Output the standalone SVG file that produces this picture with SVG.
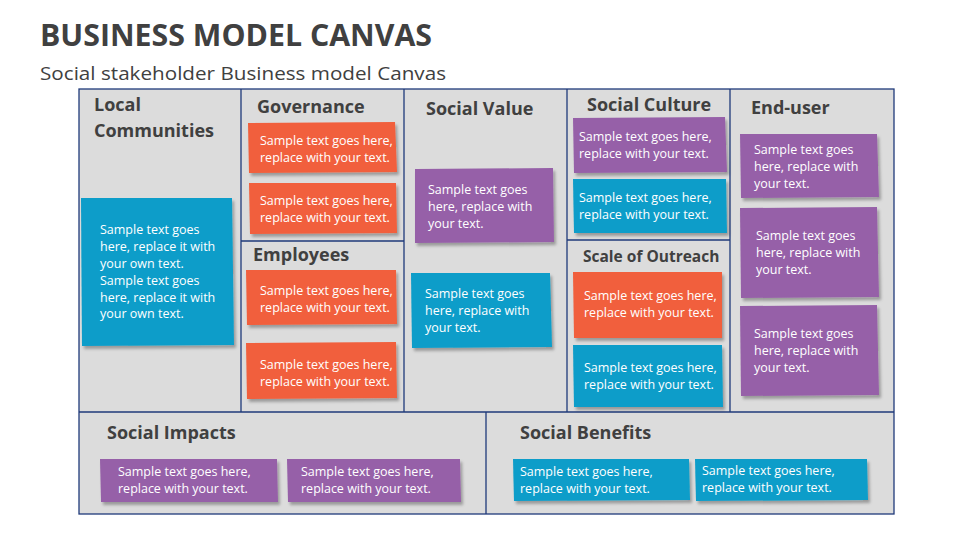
<svg xmlns="http://www.w3.org/2000/svg" width="960" height="540" viewBox="0 0 960 540">
<defs>
<filter id="sh" x="-10%" y="-10%" width="130%" height="140%"><feDropShadow dx="2" dy="3" stdDeviation="1.5" flood-color="#000" flood-opacity="0.3"/></filter>
</defs>
<style>
.t{font-family:"Open Sans","Liberation Sans",Arial,sans-serif;fill:#404040}
.h{font-family:"Open Sans","Liberation Sans",sans-serif;font-weight:bold;font-size:18px;fill:#404040}
.n{font-family:"Open Sans","Liberation Sans",sans-serif;font-size:12.5px;fill:#fff}
.o{fill:#F15F3C;filter:url(#sh)}.b{fill:#0A9DC9;filter:url(#sh)}.p{fill:#9660A8;filter:url(#sh)}
.ln{stroke:#1F3A7A;stroke-width:1.3;fill:none}
</style>
<rect width="960" height="540" fill="#fff"/>
<text class="t" x="40" y="46" font-size="30" font-weight="bold" textLength="392" lengthAdjust="spacingAndGlyphs">BUSINESS MODEL CANVAS</text>
<text class="t" x="40" y="80" font-size="19" textLength="406" lengthAdjust="spacingAndGlyphs">Social stakeholder Business model Canvas</text>
<g id="connectors">
<rect x="79" y="89" width="815" height="425" style="fill:#DCDCDC" class="ln"/>
<path class="ln" d="M241 89V412M404 89V412M567 89V412M730 89V412M79 412H894M486 412V514M241 241H404M567 240H730"/>
</g>
<g id="local"><text class="h" x="94" y="111">Local</text><text class="h" x="94" y="137">Communities</text>
<polygon class="b" points="81,198 232,198 234,345 82,346"/>
<text class="n" x="100" y="234">Sample text goes</text><text class="n" x="100" y="251">here, replace it with</text><text class="n" x="100" y="268">your own text.</text><text class="n" x="100" y="285">Sample text goes</text><text class="n" x="100" y="302">here, replace it with</text><text class="n" x="100" y="318">your own text.</text></g>
<g id="governance"><text class="h" x="257" y="113">Governance</text>
<polygon class="o" points="248,123 395,122 397,172 249,173"/>
<text class="n" x="260" y="145">Sample text goes here,</text><text class="n" x="260" y="162">replace with your text.</text>
<polygon class="o" points="249,183 396,183 397,233 250,234"/>
<text class="n" x="260" y="205">Sample text goes here,</text><text class="n" x="260" y="222">replace with your text.</text></g>
<g id="employees"><text class="h" x="253" y="261">Employees</text>
<polygon class="o" points="246,270 396,270 397,324 247,325"/>
<text class="n" x="260" y="295">Sample text goes here,</text><text class="n" x="260" y="312">replace with your text.</text>
<polygon class="o" points="246,343 396,342 397,398 247,399"/>
<text class="n" x="260" y="369">Sample text goes here,</text><text class="n" x="260" y="386">replace with your text.</text></g>
<g id="socialvalue"><text class="h" x="426" y="115">Social Value</text>
<polygon class="p" points="415,169 553,168 554,242 415,243"/>
<text class="n" x="428" y="194">Sample text goes</text><text class="n" x="428" y="211">here, replace with</text><text class="n" x="428" y="228">your text.</text>
<polygon class="b" points="411,273 550,273 552,347 412,348"/>
<text class="n" x="425" y="298">Sample text goes</text><text class="n" x="425" y="315">here, replace with</text><text class="n" x="425" y="332">your text.</text></g>
<g id="socialculture"><text class="h" x="587" y="111">Social Culture</text>
<polygon class="p" points="573,118 725,117 727,172 574,173"/>
<text class="n" x="579" y="141">Sample text goes here,</text><text class="n" x="579" y="158">replace with your text.</text>
<polygon class="b" points="573,179 726,179 727,233 574,233"/>
<text class="n" x="579" y="202">Sample text goes here,</text><text class="n" x="579" y="219">replace with your text.</text></g>
<g id="scale"><text class="h" x="583" y="262" style="font-size:15.5px">Scale of Outreach</text>
<polygon class="o" points="573,272 722,272 722,338 574,338"/>
<text class="n" x="584" y="300">Sample text goes here,</text><text class="n" x="584" y="317">replace with your text.</text>
<polygon class="b" points="573,345 722,345 723,407 574,407"/>
<text class="n" x="584" y="372">Sample text goes here,</text><text class="n" x="584" y="389">replace with your text.</text></g>
<g id="enduser"><text class="h" x="751" y="114">End-user</text>
<polygon class="p" points="740,134 877,134 879,197 741,198"/>
<text class="n" x="754" y="154">Sample text goes</text><text class="n" x="754" y="171">here, replace with</text><text class="n" x="754" y="188">your text.</text>
<polygon class="p" points="740,208 877,207 879,297 741,298"/>
<text class="n" x="756" y="240">Sample text goes</text><text class="n" x="756" y="257">here, replace with</text><text class="n" x="756" y="274">your text.</text>
<polygon class="p" points="740,306 877,305 879,395 741,396"/>
<text class="n" x="754" y="338">Sample text goes</text><text class="n" x="754" y="355">here, replace with</text><text class="n" x="754" y="372">your text.</text></g>
<g id="impacts"><text class="h" x="107" y="439">Social Impacts</text>
<polygon class="p" points="100,459 277,459 278,502 101,502"/>
<text class="n" x="118" y="476">Sample text goes here,</text><text class="n" x="118" y="493">replace with your text.</text>
<polygon class="p" points="287,459 460,459 461,502 288,502"/>
<text class="n" x="301" y="476">Sample text goes here,</text><text class="n" x="301" y="493">replace with your text.</text></g>
<g id="benefits"><text class="h" x="520" y="439">Social Benefits</text>
<polygon class="b" points="513,459 689,459 690,500 514,501"/>
<text class="n" x="520" y="476">Sample text goes here,</text><text class="n" x="520" y="493">replace with your text.</text>
<polygon class="b" points="695,459 867,459 868,500 696,501"/>
<text class="n" x="702" y="475">Sample text goes here,</text><text class="n" x="702" y="492">replace with your text.</text></g>
</svg>
